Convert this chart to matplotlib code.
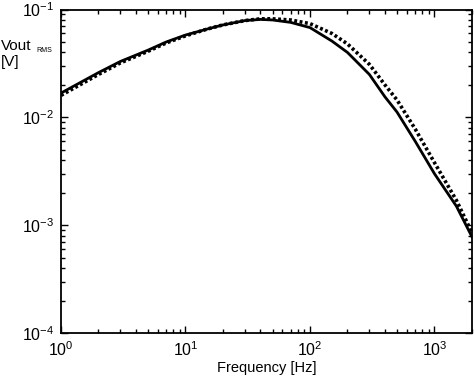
"""
Output voltage vs frequency, log-log
"""

import matplotlib
matplotlib.use("Agg")
import matplotlib.pyplot as plt
from matplotlib.ticker import LogLocator, NullFormatter

plt.rcParams["font.family"] = ["Liberation Sans", "DejaVu Sans"]
plt.rcParams["mathtext.fontset"] = "custom"
plt.rcParams["mathtext.rm"] = "Liberation Sans"
plt.rcParams["mathtext.it"] = "Liberation Sans"
plt.rcParams["mathtext.bf"] = "Liberation Sans:bold"

frequency = [1, 2, 3, 5, 7, 10, 15, 20, 30, 40, 50, 70, 100, 150, 200, 300,
             400, 500, 700, 1000, 1500, 2000]
vout_solid = [0.0168, 0.026, 0.033, 0.042, 0.050, 0.058, 0.066, 0.072, 0.079,
              0.081, 0.080, 0.076, 0.068, 0.051, 0.040, 0.025, 0.0155, 0.0112,
              0.0060, 0.0030, 0.0015, 0.00078]
vout_dotted = [0.016, 0.025, 0.032, 0.041, 0.049, 0.057, 0.066, 0.072, 0.079,
               0.082, 0.082, 0.080, 0.074, 0.060, 0.048, 0.031, 0.020, 0.0145,
               0.0078, 0.0038, 0.0017, 0.00085]

fig = plt.figure(figsize=(4.74, 3.77), dpi=100)
ax = fig.add_axes([0.1287, 0.1167, 0.867, 0.858])

ax.loglog(frequency, vout_solid, color="black", linewidth=2.0)
ax.loglog(frequency, vout_dotted, color="black", linewidth=2.6,
          linestyle=(0, (0.8, 0.7)))

ax.set_xlim(1, 2000)
ax.set_ylim(1e-4, 1e-1)

ax.xaxis.set_major_locator(LogLocator(base=10, numticks=10))
ax.yaxis.set_major_locator(LogLocator(base=10, numticks=10))
ax.xaxis.set_minor_locator(LogLocator(base=10, subs=range(2, 10), numticks=20))
ax.yaxis.set_minor_locator(LogLocator(base=10, subs=range(2, 10), numticks=20))
ax.xaxis.set_minor_formatter(NullFormatter())
ax.yaxis.set_minor_formatter(NullFormatter())

ax.tick_params(which="both", direction="in", top=True, right=True,
               labelsize=11.5, width=1.0)
ax.tick_params(which="major", length=5, pad=5)
ax.tick_params(which="minor", length=3)
for spine in ax.spines.values():
    spine.set_linewidth(1.3)

ax.set_xlabel("Frequency [Hz]", fontsize=10.5, labelpad=2)

fig.text(1 / 474, 1 - 46 / 377, "Vout", fontsize=11, va="center", ha="left")
fig.text(36 / 474, 1 - 50 / 377, "RMS", fontsize=5, va="center", ha="left")
fig.text(1 / 474, 1 - 62 / 377, "[V]", fontsize=11, va="center", ha="left")

fig.savefig("out.png", dpi=100)
